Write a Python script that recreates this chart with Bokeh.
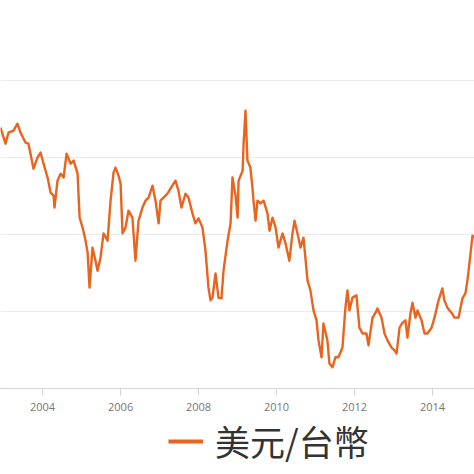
from datetime import datetime
import pandas as pd
from bokeh.plotting import figure
from bokeh.layouts import column
from bokeh.models import Range1d, FixedTicker, DatetimeTickFormatter, Legend, LegendItem
from bokeh.embed import file_html
from bokeh.resources import INLINE

dates = [
    "2002-12-03", "2003-01-19", "2003-02-16", "2003-04-04", "2003-05-11", "2003-06-08",
    "2003-07-25", "2003-08-22", "2003-10-08", "2003-11-14", "2003-12-13", "2004-01-10",
    "2004-02-17", "2004-03-16", "2004-04-13", "2004-04-22", "2004-05-20", "2004-06-18",
    "2004-07-16", "2004-08-13", "2004-09-20", "2004-10-18", "2004-11-24", "2004-12-13",
    "2005-01-10", "2005-02-07", "2005-02-26", "2005-03-16", "2005-04-13", "2005-05-11",
    "2005-05-30", "2005-06-27", "2005-07-25", "2005-09-01", "2005-09-29", "2005-10-27",
    "2005-11-14", "2005-12-13", "2006-01-01", "2006-01-19", "2006-02-16", "2006-03-16",
    "2006-04-22", "2006-05-20", "2006-06-18", "2006-07-25", "2006-08-22", "2006-09-20",
    "2006-10-27", "2006-11-24", "2006-12-23", "2007-01-10", "2007-02-07", "2007-03-16",
    "2007-04-13", "2007-05-30", "2007-06-27", "2007-07-25", "2007-09-01", "2007-09-29",
    "2007-11-05", "2007-12-03", "2008-01-01", "2008-02-07", "2008-03-06", "2008-04-03",
    "2008-04-22", "2008-05-11", "2008-06-08", "2008-07-06", "2008-08-03", "2008-08-22",
    "2008-09-29", "2008-10-27", "2008-11-14", "2008-12-13", "2009-01-01", "2009-01-10",
    "2009-02-17", "2009-02-26", "2009-03-16", "2009-04-03", "2009-05-01", "2009-05-20",
    "2009-05-30", "2009-06-18", "2009-07-06", "2009-08-03", "2009-09-01", "2009-10-08",
    "2009-10-27", "2009-11-24", "2009-12-23", "2010-01-19", "2010-02-26", "2010-03-26",
    "2010-05-01", "2010-05-30", "2010-06-18", "2010-07-16", "2010-08-13", "2010-09-10",
    "2010-10-18", "2010-11-14", "2010-12-13", "2011-01-10", "2011-01-29", "2011-02-26",
    "2011-03-16", "2011-04-22", "2011-05-11", "2011-06-08", "2011-07-06", "2011-08-03",
    "2011-09-10", "2011-10-08", "2011-10-27", "2011-11-14", "2011-12-13", "2012-01-19",
    "2012-02-16", "2012-03-16", "2012-04-22", "2012-05-11", "2012-06-18", "2012-07-16",
    "2012-08-03", "2012-09-10", "2012-10-08", "2012-11-05", "2012-12-13", "2013-01-10",
    "2013-01-29", "2013-02-26", "2013-03-26", "2013-04-22", "2013-05-11", "2013-06-08",
    "2013-06-27", "2013-07-25", "2013-08-13", "2013-09-20", "2013-10-18", "2013-11-14",
    "2013-12-23", "2014-01-19", "2014-02-26", "2014-04-03", "2014-04-22", "2014-05-20",
    "2014-06-27", "2014-07-25", "2014-09-01", "2014-10-08", "2014-11-05", "2014-11-24",
    "2014-12-23", "2015-01-10", "2015-01-29",
]

usd_twd = [
    34.78, 34.36, 34.65, 34.70, 34.88, 34.65,
    34.39, 34.36, 33.71, 34.00, 34.13, 33.84,
    33.48, 33.09, 33.01, 32.70, 33.40, 33.58,
    33.48, 34.10, 33.84, 33.92, 33.58, 32.44,
    32.18, 31.84, 31.53, 30.62, 31.66, 31.32,
    31.06, 31.40, 32.03, 31.84, 32.88, 33.61,
    33.74, 33.53, 33.32, 32.03, 32.18, 32.62,
    32.44, 31.32, 32.36, 32.70, 32.88, 32.96,
    33.27, 32.88, 32.29, 32.88, 32.96, 33.06,
    33.19, 33.40, 33.14, 32.70, 33.06, 32.96,
    32.55, 32.29, 32.42, 32.18, 31.58, 30.62,
    30.29, 30.36, 30.99, 30.36, 30.34, 31.06,
    31.84, 32.29, 33.48, 33.01, 32.44, 33.40,
    33.66, 34.36, 35.22, 33.92, 33.74, 33.22,
    32.88, 32.36, 32.88, 32.81, 32.88, 32.55,
    32.10, 32.44, 32.18, 31.66, 32.03, 31.77,
    31.32, 32.03, 32.36, 32.03, 31.66, 31.92,
    30.81, 30.55, 30.03, 29.77, 29.25, 28.81,
    29.69, 29.25, 28.65, 28.55, 28.81, 28.81,
    29.06, 30.10, 30.55, 30.03, 30.36, 30.42,
    29.58, 29.43, 29.43, 29.12, 29.84, 29.97,
    30.08, 29.84, 29.43, 29.25, 29.06, 28.99,
    28.91, 29.58, 29.71, 29.77, 29.32, 29.95,
    30.23, 29.84, 30.03, 29.77, 29.43, 29.43,
    29.58, 29.84, 30.29, 30.60, 30.29, 30.10,
    29.97, 29.84, 29.84, 30.34, 30.47, 30.81,
    31.51, 31.97, 31.92,
]

series_name = "美元/台幣"
tick_years = [2004, 2006, 2008, 2010, 2012, 2014]
y_ticks = [28, 30, 32, 34, 36]

LINE_COLOR = "#e9641f"

x = pd.to_datetime(dates)

p = figure(
    frame_width=474, frame_height=388,
    x_axis_type="datetime",
    x_range=Range1d(datetime(2002, 12, 3), datetime(2015, 1, 29)),
    y_range=Range1d(28, 38.08),
    output_backend="svg", toolbar_location=None,
    min_border_left=0, min_border_right=0, min_border_top=0, min_border_bottom=0,
    background_fill_color="white", border_fill_color="white",
)
p.outline_line_color = None

r = p.line(x, usd_twd, line_color=LINE_COLOR, line_width=2.4, line_join="round")

p.xgrid.visible = False
p.ygrid.ticker = FixedTicker(ticks=y_ticks)
p.ygrid.grid_line_color = "#ebebeb"
p.ygrid.grid_line_width = 1
p.yaxis.visible = False

xa = p.xaxis[0]
xa.ticker = FixedTicker(ticks=[pd.Timestamp(f"{yr}-01-01").value / 1e6 for yr in tick_years])
xa.formatter = DatetimeTickFormatter(years="%Y", months="%Y", days="%Y")
xa.axis_line_color = "#d4d4d4"
xa.major_tick_line_color = "#d4d4d4"
xa.major_tick_out = 7
xa.major_tick_in = 0
xa.minor_tick_line_color = None
xa.major_label_text_font = "Open Sans"
xa.major_label_text_font_size = "11px"
xa.major_label_text_color = "#777777"
xa.major_label_standoff = 7

# legend strip below the chart
p2 = figure(
    frame_width=474, frame_height=56,
    x_range=Range1d(0, 1), y_range=Range1d(0, 1),
    x_axis_location=None, y_axis_location=None,
    output_backend="svg", toolbar_location=None,
    min_border_left=0, min_border_right=0, min_border_top=0, min_border_bottom=0,
    background_fill_color="white", border_fill_color="white",
)
p2.outline_line_color = None
p2.grid.visible = False
key = p2.line(x=[0, 0], y=[0, 0], line_color=LINE_COLOR, line_width=4, line_cap="butt")

legend = Legend(items=[LegendItem(label=series_name, renderers=[key])],
                location=(168, 3), orientation="horizontal")
legend.label_text_font = "Noto Sans CJK TC"
legend.label_text_font_size = "35px"
legend.label_text_color = "#333333"
legend.glyph_width = 35
legend.glyph_height = 36
legend.label_standoff = 12
legend.border_line_color = None
legend.background_fill_alpha = 0
legend.padding = 2
legend.margin = 0
p2.add_layout(legend, "center")

layout = column(p, p2, spacing=0)
open("out.html", "w").write(file_html(layout, INLINE))
